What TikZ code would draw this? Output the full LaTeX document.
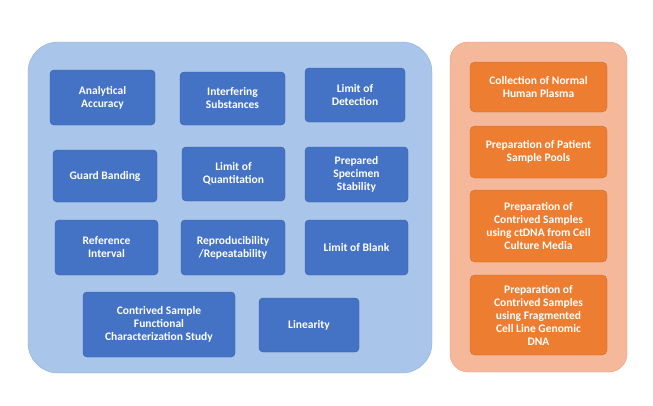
\documentclass[tikz,border=0pt]{standalone}
\usepackage{fontspec}
\setmainfont{Carlito}
\definecolor{bigblue}{HTML}{A9C5EA}
\definecolor{bigblueb}{HTML}{8FB0DD}
\definecolor{boxblue}{HTML}{4472C4}
\definecolor{bigor}{HTML}{F5B89B}
\definecolor{bigorb}{HTML}{EE9F7C}
\definecolor{boxor}{HTML}{ED7D31}
\begin{document}
\begin{tikzpicture}[x=1pt,y=-1pt,
  bb/.style={fill=boxblue,draw=boxblue!80!black,rounded corners=4pt,text=white,font=\fontsize{11.5}{13}\selectfont\bfseries,align=center,inner sep=0pt},
  ob/.style={fill=boxor,draw=boxor!85!black,rounded corners=5pt,text=white,font=\fontsize{11.5}{13}\selectfont\bfseries,align=center,inner sep=0pt}]
\useasboundingbox (0,0) rectangle (653,405);
\fill[white] (0,0) rectangle (653,405);
\node[fill=bigblue,draw=bigblueb,rounded corners=30pt,minimum width=404pt,minimum height=331pt] (blue) at (230,207.5) {};
\node[fill=bigor,draw=bigorb,rounded corners=18pt,minimum width=177pt,minimum height=330pt] (orange) at (538.5,207) {};
\newcommand{\bx}[6]{\node[#1,minimum width=#4pt,minimum height=#5pt] (#6) at (#2,#3) {};}
\node[bb,minimum width=105pt,minimum height=55pt] (aa) at (102.5,97.5) {Analytical\\Accuracy};
\node[bb,minimum width=105pt,minimum height=53pt] (is) at (232.5,98.5) {Interfering\\Substances};
\node[bb,minimum width=100pt,minimum height=54pt] (lod) at (355,95) {Limit of\\Detection};
\node[bb,minimum width=104pt,minimum height=52pt] (gb) at (105,176) {Guard Banding};
\node[bb,minimum width=103pt,minimum height=54pt] (loq) at (233.5,174) {Limit of\\Quantitation};
\node[bb,minimum width=103pt,minimum height=55pt] (pss) at (356.5,174.5) {Prepared\\Specimen\\Stability};
\node[bb,minimum width=103pt,minimum height=55pt] (ri) at (106.5,247.5) {Reference\\Interval};
\node[bb,minimum width=104pt,minimum height=55pt] (rr) at (233,247.5) {Reproducibility\\/Repeatability};
\node[bb,minimum width=103pt,minimum height=55pt] (lob) at (356.5,247.5) {Limit of Blank};
\node[bb,minimum width=152pt,minimum height=65pt] (cs) at (159,324.5) {Contrived Sample\\Functional\\Characterization Study};
\node[bb,minimum width=100pt,minimum height=54pt] (lin) at (309,325) {Linearity};
\node[ob,minimum width=137pt,minimum height=50pt] (o1) at (538.5,87) {Collection of Normal\\Human Plasma};
\node[ob,minimum width=137pt,minimum height=52pt] (o2) at (538.5,152) {Preparation of Patient\\Sample Pools};
\node[ob,minimum width=137pt,minimum height=72pt] (o3) at (538.5,226) {Preparation of\\Contrived Samples\\using ctDNA from Cell\\Culture Media};
\node[ob,minimum width=137pt,minimum height=80pt] (o4) at (538.5,315) {Preparation of\\Contrived Samples\\using Fragmented\\Cell Line Genomic\\DNA};
\end{tikzpicture}
\end{document}
